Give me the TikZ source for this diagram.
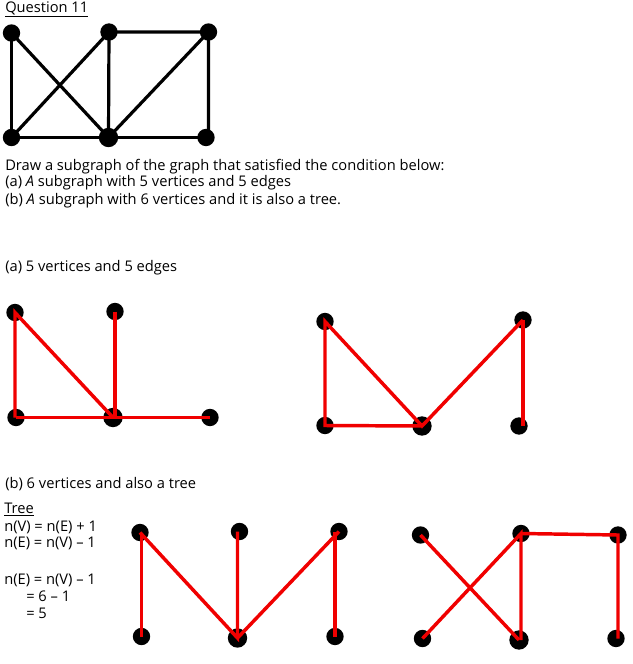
\documentclass[tikz,border=0pt]{standalone}
\usepackage{fontspec}
\setmainfont{Open Sans}
\usetikzlibrary{positioning}

\tikzset{
  dot/.style={circle,fill=black,inner sep=0pt,minimum size=13pt},
  bigdot/.style={dot,minimum size=14.5pt},
  blk/.style={line width=2.4pt},
  redl/.style={draw={rgb,255:red,240;green,0;blue,0},line width=2.6pt},
  txt/.style={anchor=base west,inner sep=0pt,font=\fontsize{11}{13}\selectfont},
}

\begin{document}
\begin{tikzpicture}[x=0.75pt,y=0.75pt,yscale=-1,xscale=1]
\useasboundingbox (0,0) rectangle (632,664);

% Text Node
\node[txt] (title) at (5,12) {\underline{Question 11}};

%Shape: Graph [id:main]
\node[dot] (a) at (11.5,33) {};
\node[dot] (b) at (109,32) {};
\node[dot] (c) at (208.5,32) {};
\node[dot] (d) at (11.5,137.5) {};
\node[bigdot] (e) at (108.5,137.5) {};
\node[dot] (f) at (206,137.5) {};
\draw[blk] (a.center) -- (d.center) -- (e.center) -- (f.center);
\draw[blk] (e.center) -- (b.center) -- (c.center) -- (c.center |- f.center);
\draw[blk] (a.center) -- (e.center) -- (c.center);
\draw[blk] (b.center) -- (d.center);

% Text Node
\node[txt] (cond) at (5,170) {Draw a subgraph of the graph that satisfied the condition below:};
\node[txt] (conda) at (5,186.5) {(a) \textit{A} subgraph with 5 vertices and 5 edges};
\node[txt] (condb) at (5,204) {(b) \textit{A} subgraph with 6 vertices and it is also a tree.};

% Text Node
\node[txt] (parta) at (5,271.5) {(a) 5 vertices and 5 edges};

%Shape: Graph [id:a-left]
\node[dot] (p1) at (15,312.5) {};
\node[dot] (p2) at (115,311.5) {};
\node[dot] (p3) at (16,417.5) {};
\node[bigdot] (p4) at (113,417.5) {};
\node[dot] (p5) at (210,417.5) {};
\draw[redl] (p1.center |- p3.center) -- (p1.center) -- (p4.center);
\draw[redl] (p2.center) -- (p2.center |- p4.center);
\draw[redl] (p3.center) -- (p5.center);

%Shape: Graph [id:a-right]
\node[dot] (q1) at (325,321.5) {};
\node[dot] (q2) at (523,320) {};
\node[dot] (q3) at (325,425.5) {};
\node[bigdot] (q4) at (422,426) {};
\node[dot] (q5) at (519,426) {};
\draw[redl] (q4.center) -- (q3.center) -- (q1.center) -- (q4.center) -- (q2.center);
\draw[redl] (q2.center) -- (q2.center |- q5.center);

% Text Node
\node[txt] (partb) at (5,488.5) {(b) 6 vertices and also a tree};
\node[txt] (tree) at (4,513) {\underline{Tree}};
\node[txt] (eq1) at (4,531) {n(V) = n(E) + 1};
\node[txt] (eq2) at (4,547.5) {n(E) = n(V) – 1};
\node[txt] (eq3) at (4,584) {n(E) = n(V) – 1};
\node[txt] (eq4) at (26,601) {= 6 – 1};
\node[txt] (eq5) at (26,618) {= 5};

%Shape: Graph [id:b-left]
\node[dot] (r1) at (140,532.5) {};
\node[dot] (r2) at (239.5,531.5) {};
\node[dot] (r3) at (339,531.5) {};
\node[dot] (r4) at (141.5,636.5) {};
\node[bigdot] (r5) at (237.5,638) {};
\node[dot] (r6) at (335,636.5) {};
\draw[redl] (r1.center -| r4.center) -- (r4.center);
\draw[redl] (r1.center) -- (r5.center) -- (r5.center |- r2.center);
\draw[redl] (r5.center) -- (r3.center);
\draw[redl] (r6.center |- r3.center) -- (r6.center);

%Shape: Graph [id:b-right]
\node[dot] (s1) at (420.5,535) {};
\node[dot] (s2) at (521,533.5) {};
\node[dot] (s3) at (618,535) {};
\node[dot] (s4) at (422.5,638.5) {};
\node[bigdot] (s5) at (519,640) {};
\node[dot] (s6) at (616,638.5) {};
\draw[redl] (s1.center) -- (s5.center);
\draw[redl] (s4.center) -- (s2.center) -- (s2.center |- s5.center);
\draw[redl] (s2.center) -- (s3.center) -- (s3.center |- s6.center);

\end{tikzpicture}
\end{document}
